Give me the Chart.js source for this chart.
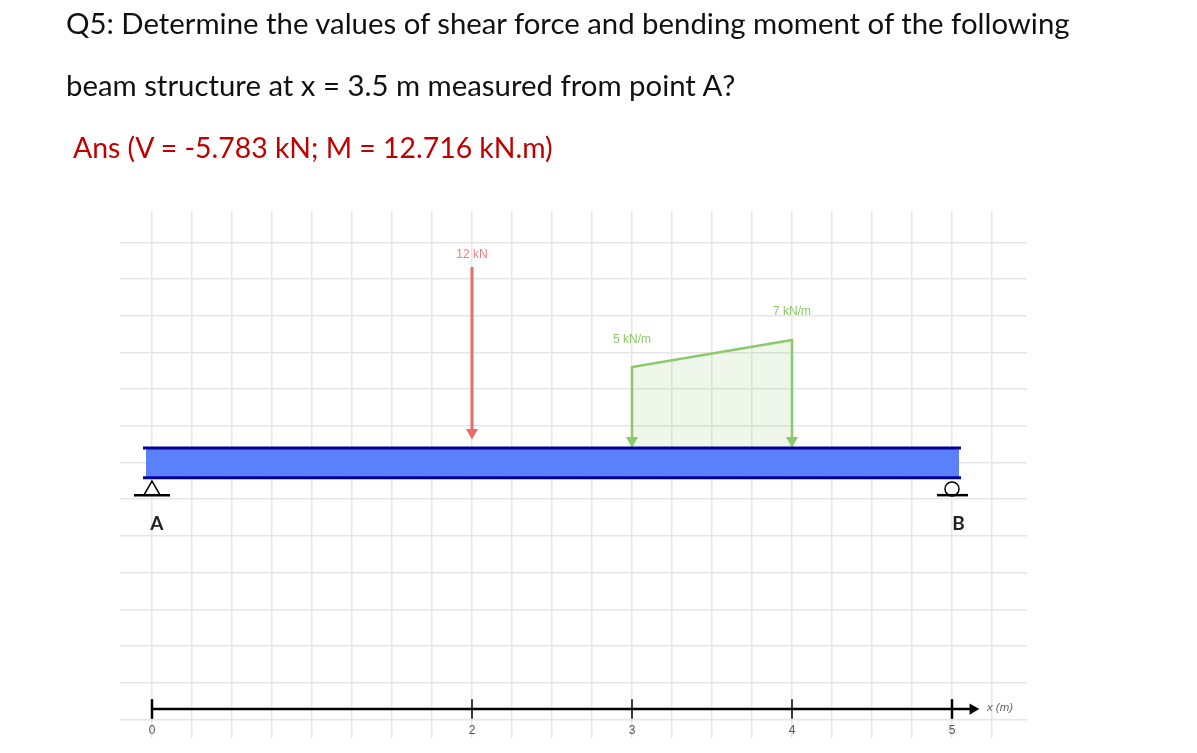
<!DOCTYPE html>
<html>
<head>
<meta charset="utf-8">
<title>Q5 beam</title>
<script src="https://cdn.jsdelivr.net/npm/chart.js@4"></script>
<style>
body { margin: 0; background: #fff; }
#wrap { position: relative; width: 1197px; height: 753px; overflow: hidden; }
canvas { position: absolute; left: 0; top: 0; }
.line { position: absolute; white-space: nowrap; font-family: Lato, sans-serif; font-size: 29.35px; line-height: 36px; color: #111; }
</style>
</head>
<body>
<div id="wrap">
  <canvas id="beam" width="1197" height="753"></canvas>
  <div class="line" style="left:66px;top:5px">Q5: Determine the values of shear force and bending moment of the following</div>
  <div class="line" style="left:66px;top:67px">beam structure at x = 3.5 m measured from point A?</div>
  <div class="line" style="left:73px;top:129px;color:#c00000;font-size:28.4px">Ans (V = -5.783 kN; M = 12.716 kN.m)</div>
</div>
<script>
// grid
var gridX = [0,0.25,0.5,0.75,1,1.25,1.5,1.75,2,2.25,2.5,2.75,3,3.25,3.5,3.75,4,4.25,4.5,4.75,5,5.25];
var gridY = [0,1,2,3,4,5,6,7,8,9,10,11,12,13];

// x axis drawn under the beam
var axisTicks = [0,2,3,4,5];
var axisEnd = 5.13;
var axisY = 0.283;

// beam
var beamX = [-0.0375,5.044];
var flangeX = [-0.056,5.056];
var beamTop = 7.395;
var beamBottom = 6.586;

// point load
var forceX = 2;
var forceTop = 12.33;
var forceTip = 7.82;

// distributed load
var loadX = [3,4];
var loadTop = [9.6,10.34];
var loadBase = 7.42;
var loadTip = 7.6;

// supports
var pinX = 0;
var pinY = 6.24;
var pinBase = [-0.113,0.113];
var rollerX = 5;
var rollerY = 6.28;
var rollerBase = [4.906,5.1];
var supportBaseY = 6.11;

// labels
var labelText = ['12 kN','5 kN/m','7 kN/m','A','B','x (m)'];
var labelX = [2,3,4,0.03,5.04,5.3];
var labelY = [12.65,10.34,11.1,5.32,5.32,0.31];
var labelColor = ['#ee8080','#8cc96a','#8cc96a','#222','#222','#666'];
var labelFont = ['12px "Liberation Sans"','12px "Liberation Sans"','12px "Liberation Sans"','bold 19px Lato','bold 19px Lato','italic 11.5px "Liberation Sans"'];

var RED = '#e96c6c';
var GREEN = '#8cc96a';
var NAVY = '#00009a';

function hline(xs, y, color, width) {
    return { data: xs.map(function (x) { return { x: x, y: y }; }), showLine: true, borderColor: color, borderWidth: width, pointRadius: 0 };
}
function marker(xs, ys, style, radius, rotation, fill, stroke, width) {
    return {
        data: xs.map(function (x, i) { return { x: x, y: ys[i] }; }),
        showLine: false, pointStyle: style, pointRadius: radius, rotation: rotation,
        backgroundColor: fill, borderColor: stroke, borderWidth: width
    };
}

// written in paint order, chart.js paints the first dataset last so this gets reversed below
var datasets = [
    // distributed load
    {
        data: [{ x: loadX[0], y: loadBase }, { x: loadX[0], y: loadTop[0] }, { x: loadX[1], y: loadTop[1] }, { x: loadX[1], y: loadBase }],
        showLine: true, borderColor: GREEN, borderWidth: 2.5, pointRadius: 0,
        fill: { value: loadBase }, backgroundColor: 'rgba(140,201,106,0.14)'
    },
    marker(loadX, [loadTip, loadTip], 'triangle', 7, 180, GREEN, GREEN, 0),

    // point load
    { data: [{ x: forceX, y: forceTop }, { x: forceX, y: forceTip }], showLine: true, borderColor: RED, borderWidth: 3, pointRadius: 0 },
    marker([forceX], [forceTip], 'triangle', 7, 180, RED, RED, 0),

    // beam
    Object.assign(hline(beamX, beamBottom, '#5a80fb', 0), { fill: { value: beamTop }, backgroundColor: '#5a80fb' }),
    hline(flangeX, beamTop, NAVY, 3),
    hline(flangeX, beamBottom, NAVY, 3),

    // supports
    marker([pinX], [pinY], 'triangle', 9.3, 0, '#fff', '#000', 1.5),
    hline(pinBase, supportBaseY, '#000', 2.5),
    marker([rollerX], [rollerY], 'circle', 7, 0, '#fff', '#000', 1.5),
    hline(rollerBase, supportBaseY, '#000', 2.5),

    // x axis
    hline([axisTicks[0], axisEnd], axisY, '#000', 2.5),
    marker([axisEnd], [axisY], 'triangle', 6.5, 90, '#000', '#000', 0),
    marker(axisTicks, axisTicks.map(function () { return axisY; }), 'line', 9.7, 90, '#000', '#000', 1.5),
    marker([axisTicks[0], axisTicks[4]], [axisY, axisY], 'line', 9.7, 90, '#000', '#000', 2.5)
].reverse();

// text sitting on the data scales
var labelPlugin = {
    id: 'beamLabels',
    afterDatasetsDraw: function (chart) {
        var ctx = chart.ctx;
        ctx.save();
        ctx.textAlign = 'center';
        ctx.textBaseline = 'middle';
        labelText.forEach(function (text, i) {
            ctx.font = labelFont[i];
            ctx.fillStyle = labelColor[i];
            ctx.fillText(text, chart.scales.x.getPixelForValue(labelX[i]), chart.scales.y.getPixelForValue(labelY[i]));
        });
        ctx.restore();
    }
};

new Chart(document.getElementById('beam'), {
    type: 'scatter',
    data: { datasets: datasets },
    plugins: [labelPlugin],
    options: {
        responsive: false,
        animation: false,
        layout: { padding: { left: 120, right: 170, top: 211, bottom: 15 } },
        plugins: { legend: { display: false }, title: { display: false }, tooltip: { enabled: false } },
        scales: {
            x: {
                type: 'linear',
                min: -0.2,
                max: 5.46875,
                border: { display: false },
                grid: { color: '#e6e6e6', lineWidth: 1.5, drawTicks: false },
                afterBuildTicks: function (scale) {
                    scale.ticks = gridX.map(function (v) { return { value: v }; });
                },
                afterFit: function (scale) { scale.height = 0; },
                ticks: {
                    autoSkip: false,
                    maxRotation: 0,
                    mirror: true, // keeps the numbers inside the grid, above the scale box
                    padding: 0,
                    color: '#555',
                    font: { size: 12, family: '"Liberation Sans"' },
                    callback: function (v) { return axisTicks.indexOf(v) >= 0 ? String(v) : ''; }
                }
            },
            y: {
                type: 'linear',
                min: -0.507,
                max: 13.853,
                border: { display: false },
                grid: { color: '#e6e6e6', lineWidth: 1.5, drawTicks: false },
                afterBuildTicks: function (scale) {
                    scale.ticks = gridY.map(function (v) { return { value: v }; });
                },
                afterFit: function (scale) { scale.width = 0; },
                ticks: { display: false }
            }
        }
    }
});
</script>
</body>
</html>
